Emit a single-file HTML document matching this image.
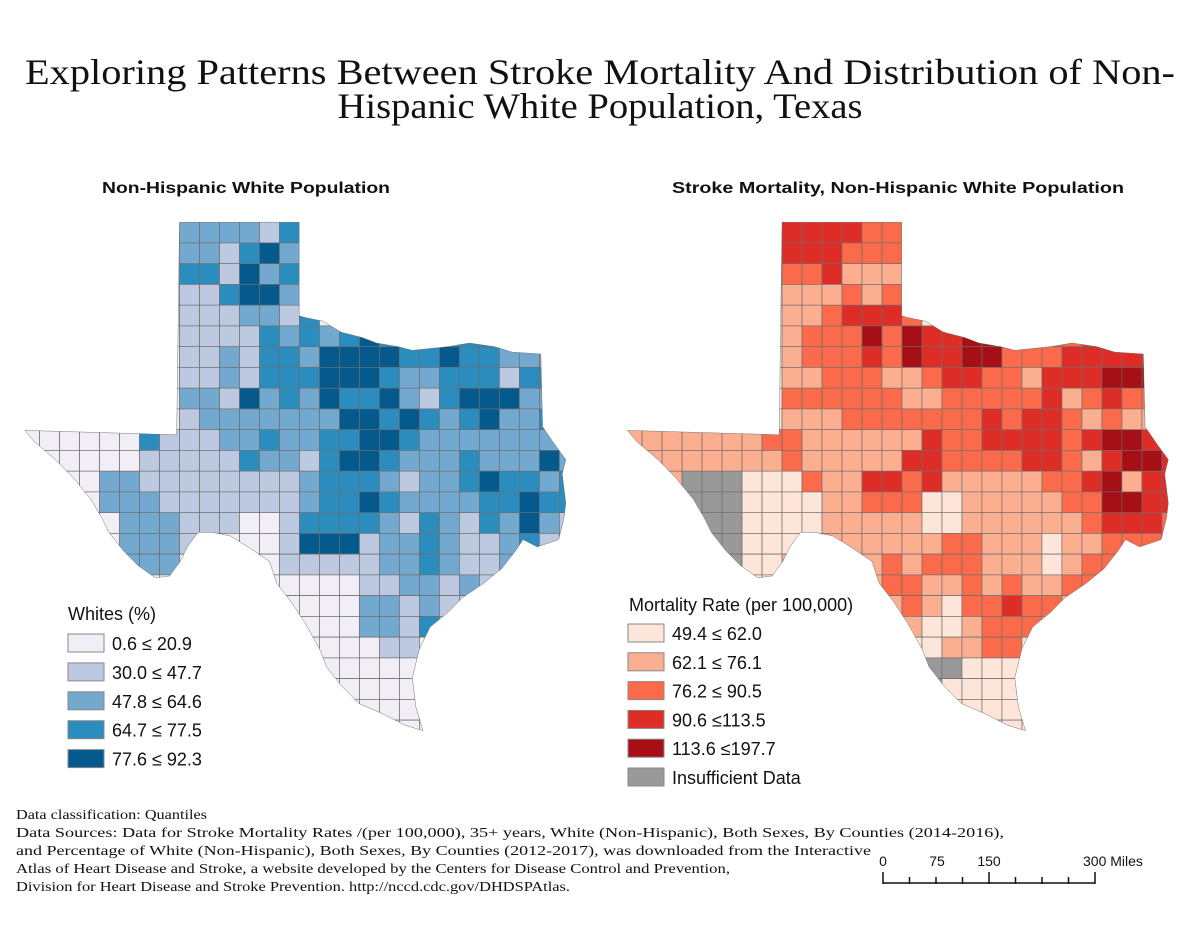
<!DOCTYPE html>
<html><head><meta charset="utf-8"><style>
html,body{margin:0;padding:0;background:#fff;}
svg{display:block;}
</style></head><body>
<svg id="root" width="1200" height="927" viewBox="0 0 1200 927" xmlns="http://www.w3.org/2000/svg">
<defs>
<clipPath id="txclip"><path id="txpath" d="M448,28 L783,28 L783,285 L800,290 L850,300 L900,330 L960,345 L1000,360 L1060,370 L1100,380 L1150,375 L1200,370 L1260,360 L1330,370 L1380,385 L1460,390 L1465,590 L1500,640 L1530,680 L1520,720 L1530,800 L1525,840 L1510,900 L1450,920 L1410,900 L1390,930 L1350,980 L1300,1020 L1240,1060 L1200,1100 L1150,1140 L1120,1200 L1100,1280 L1110,1360 L1130,1425 L1080,1410 L1020,1380 L950,1350 L900,1300 L860,1250 L840,1200 L800,1130 L760,1070 L720,1020 L700,960 L640,920 L590,890 L540,880 L500,880 L470,920 L450,960 L420,1000 L380,1005 L330,970 L290,930 L250,880 L230,840 L200,790 L150,730 L100,680 L40,630 L15,600 L440,612 Z"/></clipPath>
</defs>
<text x="600" y="84" text-anchor="middle" font-family="Liberation Serif, serif" font-size="36" textLength="1150" lengthAdjust="spacingAndGlyphs" fill="#111">Exploring Patterns Between Stroke Mortality And Distribution of Non-</text>
<text x="600" y="118" text-anchor="middle" font-family="Liberation Serif, serif" font-size="36" textLength="525" lengthAdjust="spacingAndGlyphs" fill="#111">Hispanic White Population, Texas</text>
<text x="246" y="193" text-anchor="middle" font-family="Liberation Sans, sans-serif" font-weight="bold" font-size="16" textLength="288" lengthAdjust="spacingAndGlyphs" fill="#111">Non-Hispanic White Population</text>
<text x="898" y="193" text-anchor="middle" font-family="Liberation Sans, sans-serif" font-weight="bold" font-size="16" textLength="452" lengthAdjust="spacingAndGlyphs" fill="#111">Stroke Mortality, Non-Hispanic White Population</text>
<g id="leftMap" transform="translate(19.6,212) scale(0.357,0.364)"></g>
<g id="rightMap" transform="translate(622.1,212) scale(0.357,0.364)"></g>
<g id="leftLegend"></g>
<g id="rightLegend"></g>
<g font-family="Liberation Serif, serif" font-size="14" fill="#111">
<text x="16" y="819" textLength="191" lengthAdjust="spacingAndGlyphs">Data classification: Quantiles</text>
<text x="16" y="837" textLength="988" lengthAdjust="spacingAndGlyphs">Data Sources: Data for Stroke Mortality Rates /(per 100,000), 35+ years, White (Non-Hispanic), Both Sexes, By Counties (2014-2016),</text>
<text x="16" y="855" textLength="855" lengthAdjust="spacingAndGlyphs">and Percentage of White (Non-Hispanic),  Both Sexes, By Counties (2012-2017), was downloaded from the Interactive</text>
<text x="16" y="873" textLength="714" lengthAdjust="spacingAndGlyphs">Atlas of Heart Disease and Stroke, a website developed by the Centers for Disease Control and Prevention,</text>
<text x="16" y="891" textLength="554" lengthAdjust="spacingAndGlyphs">Division for Heart Disease and Stroke Prevention. http://nccd.cdc.gov/DHDSPAtlas.</text>
</g>
<g id="scaleBar" font-family="Liberation Sans, sans-serif" font-size="14" fill="#111">
<text x="883" y="866" text-anchor="middle">0</text>
<text x="937" y="866" text-anchor="middle">75</text>
<text x="989" y="866" text-anchor="middle">150</text>
<text x="1083" y="866">300 Miles</text>
<line x1="883" y1="883" x2="1095" y2="883" stroke="#111" stroke-width="1.5"/>
</g>
</svg>
<script>
const NS = "http://www.w3.org/2000/svg";
// county-approximation grid codes (28 columns x 25 rows)
const whiteRows = [
"aaaaaaaaccccbdaaaaaaaaaaaaaa",
"aaaaaaaaccbdecaaaaaaaaaaaaaa",
"aaaaaaaaddbecdaaaaaaaaaaaaaa",
"aaaaaaaabbdeecaaaaaaaaaaaaaa",
"aaaaaaaabbbccbdaaaaaaaaaaaaa",
"aaaaaaaabbbbdcdcdeddddddccaa",
"aaaaaaaabbcbddceeeeddeddccca",
"aaaaaaaabbcbdddeeedccdddbdda",
"aaaaaaaaccbecdceddecbdeeecca",
"aaaaaaaabccccccceededcdeccdca",
"aaaaaadbbbccdccddeedccccccca",
"aaaaaabbbbbdccbdeedcccdcccec",
"aaaaccbbbbbbbbcdddcbccdeddcd",
"aaaacccbbbbbbbcddedccccddedd",
"aaaaacccbbbaabddddcbdcbdcecb",
"aaaaacccbaaaabeeebccdcbbcdba",
"aaaaacccaaaaabbbbbccdcbbcbaa",
"aaaaaaaaaaaaaaaaabbccbcbbaaa",
"aaaaaaaaaaaaaaaaaccbcbbaaaaa",
"aaaaaaaaaaaaaaaaaccbdbaaaaaa",
"aaaaaaaaaaaaaaaaaabbaaaaaaaa",
"aaaaaaaaaaaaaaaaaaaaaaaaaaaa",
"aaaaaaaaaaaaaaaaaaaaaaaaaaaa",
"aaaaaaaaaaaaaaaaaaaaaaaaaaaa",
"aaaaaaaaaaaaaaaaaaaaaaaaaaaa"
];
const strokeRows = [
"aaaaaaaaddddccaaaaaaaaaaaaaa",
"aaaaaaaadddcccaaaaaaaaaaaaaa",
"aaaaaaaaccdbbbaaaaaaaaaaaaaa",
"aaaaaaaabbbcbcaaaaaaaaaaaaaa",
"aaaaaaaabbcdddcaaaaaaaaaaaaa",
"aaaaaaaabccceceddeeccccdddaa",
"aaaaaaaabcccdceddeecccddddda",
"aaaaaaaabbcccbbcddccbdddeeea",
"aaaaaaaaccccccbbcccccdbcdcca",
"aaaaaaaabbbcccccccdcddcbcbba",
"bbbbbbbccbbbbbbdccddddcdeedd",
"bbbbbbbbcbbbbbddccccddcbdeed",
"bbbgggaaacbbddcdbbbbbccdebdd",
"aaagggaaaabbcccaabbbbbcceedd",
"aaaaggaaaabbbbbaabbbbbbcdddc",
"aaaaggaaabbbbbbbccbbbabbccca",
"aaaaagaabbbbbcbcccbbbabccbaa",
"aaaaaaaaaaabbccbbcbcbbccbaaa",
"aaaaaaaaaaaabbcbaccdccbaaaaa",
"aaaaaaaaaaaaabbaabcccbaaaaaa",
"aaaaaaaaaaaaaaaabbccaaaaaaaa",
"aaaaaaaaaaaaaaaggaaaaaaaaaaa",
"aaaaaaaaaaaaaaagaaaaaaaaaaaa",
"aaaaaaaaaaaaaaaaaaaaaaaaaaaa",
"aaaaaaaaaaaaaaaaaaaaaaaaaaaa"
];
const whiteClasses = ["a","b","c","d","e"];
const whiteColors = ["#f1eef6","#bdc9e1","#74a9cf","#2b8cbe","#045a8d"];
const whiteLabels = ["0.6 \u2264 20.9","30.0 \u2264 47.7","47.8 \u2264 64.6","64.7 \u2264 77.5","77.6 \u2264 92.3"];
const strokeClasses = ["a","b","c","d","e","g"];
const strokeColors = ["#fee5d9","#fcae91","#fb6a4a","#de2d26","#a50f15","#999999"];
const strokeLabels = ["49.4 \u2264 62.0","62.1 \u2264 76.1","76.2 \u2264 90.5","90.6 \u2264113.5","113.6 \u2264197.7","Insufficient Data"];
const scaleTicks = [0,37.5,75,112.5,150,187.5,225,262.5,300];

const CELL_W = 56, CELL_H = 57, ORIGIN_Y = 28;
function colX(c){ return c*CELL_W; }
function rowY(r){ return ORIGIN_Y + r*CELL_H; }

function drawMap(gid, rows, classes, colors, name){
  const g = document.getElementById(gid);
  const cells = document.createElementNS(NS,"g");
  cells.setAttribute("clip-path","url(#txclip)");
  
  
  rows.forEach((row, r) => {
    for (let c = 0; c < row.length; c++) {
      const k = classes.indexOf(row[c]);
      const rect = document.createElementNS(NS,"rect");
      rect.setAttribute("x", colX(c));
      rect.setAttribute("y", rowY(r));
      rect.setAttribute("width", CELL_W);
      rect.setAttribute("height", CELL_H);
      rect.setAttribute("fill", colors[k < 0 ? 0 : k]);
      rect.setAttribute("stroke", "#6e6e6e");
      rect.setAttribute("stroke-width", "0.7");
      rect.setAttribute("vector-effect", "non-scaling-stroke");
      
      
      cells.appendChild(rect);
    }
  });
  g.appendChild(cells);
  const outline = document.createElementNS(NS,"use");
  outline.setAttribute("href","#txpath");
  outline.setAttribute("fill","none");
  outline.setAttribute("stroke","#6e6e6e");
  outline.setAttribute("stroke-width","1.3");
  outline.setAttribute("vector-effect","non-scaling-stroke");
  
  
  g.appendChild(outline);
}
drawMap("leftMap", whiteRows, whiteClasses, whiteColors, "white-population");
drawMap("rightMap", strokeRows, strokeClasses, strokeColors, "stroke-mortality");

function drawLegend(gid, title, titleX, titleY, sx, top0, step, colors, labels){
  const g = document.getElementById(gid);
  const t = document.createElementNS(NS,"text");
  t.setAttribute("x", titleX); t.setAttribute("y", titleY);
  t.setAttribute("font-family","Liberation Sans, sans-serif");
  t.setAttribute("font-size","18"); t.setAttribute("fill","#111");
  t.textContent = title;
  
  
  g.appendChild(t);
  labels.forEach((lab, i) => {
    const y = top0 + i*step;
    const r = document.createElementNS(NS,"rect");
    r.setAttribute("x", sx); r.setAttribute("y", y);
    r.setAttribute("width", 36); r.setAttribute("height", 18);
    r.setAttribute("fill", colors[i]); r.setAttribute("stroke","#888"); r.setAttribute("stroke-width","1");
    
    
    g.appendChild(r);
    const tx = document.createElementNS(NS,"text");
    tx.setAttribute("x", sx + 44); tx.setAttribute("y", y + 16);
    tx.setAttribute("font-family","Liberation Sans, sans-serif");
    tx.setAttribute("font-size","18"); tx.setAttribute("fill","#111");
    tx.textContent = lab;
    
    
    g.appendChild(tx);
  });
}
drawLegend("leftLegend", "Whites (%)", 68, 620, 68, 634, 28.9, whiteColors, whiteLabels);
drawLegend("rightLegend", "Mortality Rate (per 100,000)", 629, 611, 628, 624, 28.8, strokeColors, strokeLabels);

const sb = document.getElementById("scaleBar");
const SB_X0 = 883, SB_X1 = 1095, SB_MAX = 300;
function sbX(v){ return SB_X0 + (SB_X1 - SB_X0) * v / SB_MAX; }
scaleTicks.forEach(v => {
  const major = (v === 0 || v === 150 || v === 300);
  const l = document.createElementNS(NS,"line");
  l.setAttribute("x1", sbX(v)); l.setAttribute("x2", sbX(v));
  l.setAttribute("y1", major ? 872 : 877); l.setAttribute("y2", 884);
  l.setAttribute("stroke","#111"); l.setAttribute("stroke-width","1.5");
  
  
  sb.appendChild(l);
});
</script>
</body></html>
